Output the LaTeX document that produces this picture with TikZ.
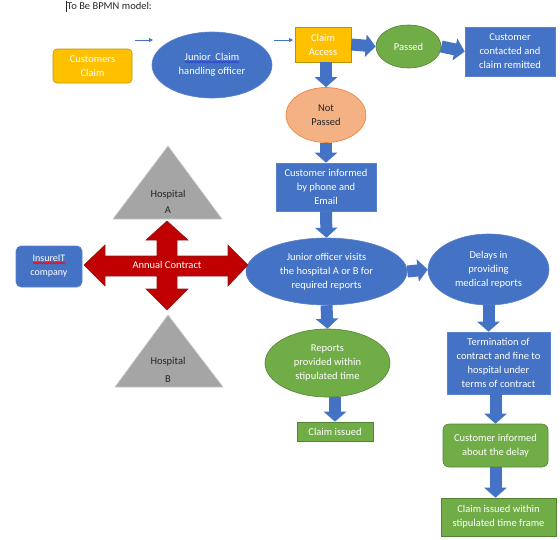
\documentclass[tikz,border=0pt]{standalone}
\usepackage{fontspec}
\setmainfont{Carlito}
\usepackage{xcolor}
\definecolor{office}{HTML}{4472C4}
\definecolor{officeline}{HTML}{5A82CC}
\definecolor{gold}{HTML}{FFC000}
\definecolor{goldline}{HTML}{BF9000}
\definecolor{leaf}{HTML}{70AD47}
\definecolor{leafline}{HTML}{548235}
\definecolor{salmon}{HTML}{F4B183}
\definecolor{salmonline}{HTML}{ED7D31}
\definecolor{stone}{HTML}{A5A5A5}
\definecolor{stoneline}{HTML}{C9C9C9}
\definecolor{crimson}{HTML}{C00000}
\definecolor{crimsonline}{HTML}{8E1B1B}
\definecolor{ink}{HTML}{262626}
\definecolor{squiggle}{HTML}{2B3FD6}
\usepackage{tikz}
\usetikzlibrary{arrows.meta, positioning, shapes.geometric, calc, decorations.pathmorphing}

\begin{document}
\begin{tikzpicture}[x=1pt, y=-1pt,
  every node/.style={font=\fontsize{10.5}{14}\selectfont, align=center, inner sep=0pt},
  box/.style={draw=officeline, fill=office, text=white, line width=0.6pt},
  oval/.style={ellipse, draw=officeline, fill=office, text=white, line width=0.6pt},
  goldbox/.style={draw=goldline, fill=gold, text=white, line width=0.6pt},
  greenbox/.style={draw=leafline, fill=leaf, text=white, line width=0.6pt},
  greenoval/.style={ellipse, draw=leafline, fill=leaf, text=white, line width=0.6pt},
  blk/.style={office, line width=12pt, -{Triangle[width=22pt, length=10pt]}},
  thinarrow/.style={office, line width=0.8pt, -{Triangle[width=4pt, length=4pt]}},
  spell/.style={decorate, decoration={snake, amplitude=0.7pt, segment length=2.5pt}, line width=0.8pt}
]
  \useasboundingbox (0,0) rectangle (560,539);

  % --- Title ---
  \draw[ink, line width=0.5pt] (66,1) -- (66,12);
  \node[anchor=west, text=ink] (title) at (67,6) {To Be BPMN model:};

  % --- Top row ---
  \node[goldbox, rounded corners=4pt, minimum width=79pt, minimum height=34pt] (claim) at (92.5,66) {Customers\\Claim};
  \node[oval, minimum width=120pt, minimum height=66pt] (junior) at (212,65) {Junior\ \ Claim\\handling officer};
  \node[goldbox, minimum width=56pt, minimum height=35pt] (access) at (323,44.5) {Claim\\Access};
  \node[greenoval, minimum width=65pt, minimum height=43pt] (passed) at (408.5,46.5) {Passed};
  \node[box, minimum width=90pt, minimum height=49pt] (contacted) at (510,51.5) {Customer\\contacted and\\claim remitted};
  \draw[spell, squiggle] (185,62) -- (239,62);

  % thin arrows above the first shapes
  \coordinate (t1a) at (135,40);
  \coordinate (t1b) at (153,40);
  \coordinate (t2a) at (274,40);
  \coordinate (t2b) at (293,40);
  \draw[thinarrow] (t1a) -- (t1b);
  \draw[thinarrow] (t2a) -- (t2b);

  \draw[blk] (access.east) -- (passed.west);
  \draw[blk] (passed.east) -- (contacted.west);

  % --- Middle column ---
  \node[ellipse, draw=salmonline, fill=salmon, text=ink, line width=0.6pt, minimum width=80pt, minimum height=55pt] (notpassed) at (326,115) {Not\\Passed};
  \node[box, minimum width=100pt, minimum height=48pt] (informed) at (326,187) {Customer informed\\by phone and\\Email};
  \node[oval, minimum width=161pt, minimum height=67pt] (visits) at (326.5,271.5) {Junior officer visits\\the hospital A or B for\\required reports};
  \node[greenoval, minimum width=125pt, minimum height=68pt] (reports) at (327.5,363) {Reports\\provided within\\stipulated time};
  \node[greenbox, minimum width=76pt, minimum height=19pt] (issued) at (335,431.5) {Claim issued};

  \draw[blk] (access.south -| notpassed.north) -- (notpassed.north);
  \draw[blk] (notpassed.south) -- (informed.north);
  \draw[blk] (informed.south) -- (visits.north);
  \draw[blk] (visits.south) -- (reports.north);
  \draw[blk] (issued.north |- reports.south) -- (issued.north);

  % --- Right column ---
  \node[oval, minimum width=121pt, minimum height=71pt] (delays) at (488.5,269.5) {Delays in\\providing\\medical reports};
  \node[box, minimum width=103pt, minimum height=62pt] (terminate) at (498.5,363) {Termination of\\contract and fine to\\hospital under\\terms of contract};
  \node[greenbox, rounded corners=6pt, minimum width=105pt, minimum height=43pt] (delayinf) at (495.5,445.5) {Customer informed\\about the delay};
  \node[greenbox, minimum width=115pt, minimum height=38pt] (final) at (498.5,517) {Claim issued within\\stipulated time frame};

  \draw[blk] (visits.east) -- (delays.west);
  \draw[blk] (delays.south) -- (delays.south |- terminate.north);
  \draw[blk] (terminate.south -| delayinf.north) -- (delayinf.north);
  \draw[blk] (delayinf.south) -- (delayinf.south |- final.north);

  % --- Hospitals and annual contract ---
  \draw[stoneline, fill=stone, line width=0.6pt] (113,219) -- (168,146) -- (222,219) -- cycle;
  \node[text=ink, font=\fontsize{10.5}{16}\selectfont] (hospA) at (168,202) {Hospital\\A};
  \draw[stoneline, fill=stone, line width=0.6pt] (115,387) -- (168,315) -- (223,387) -- cycle;
  \node[text=ink, font=\fontsize{10.5}{18}\selectfont] (hospB) at (168,370) {Hospital\\B};

  \node[box, rounded corners=5pt, minimum width=66pt, minimum height=41pt, font=\fontsize{10}{14}\selectfont] (insure) at (49,266.5) {InsureIT\\company};
  \draw[spell, red] (33,263) -- (65,263);

  \draw[crimsonline, fill=crimson, line width=0.6pt]
    (84,265) -- (105,245) -- (105,256) -- (157,256) -- (157,240) -- (146,240)
    -- (167,221) -- (188,240) -- (177,240) -- (177,256) -- (228,256) -- (228,245)
    -- (248,265) -- (228,286) -- (228,276) -- (177,276) -- (177,289) -- (188,289)
    -- (167,310) -- (146,289) -- (157,289) -- (157,276) -- (105,276) -- (105,286) -- cycle;
  \node[text=white] (contract) at (167,265) {Annual Contract};
\end{tikzpicture}
\end{document}
